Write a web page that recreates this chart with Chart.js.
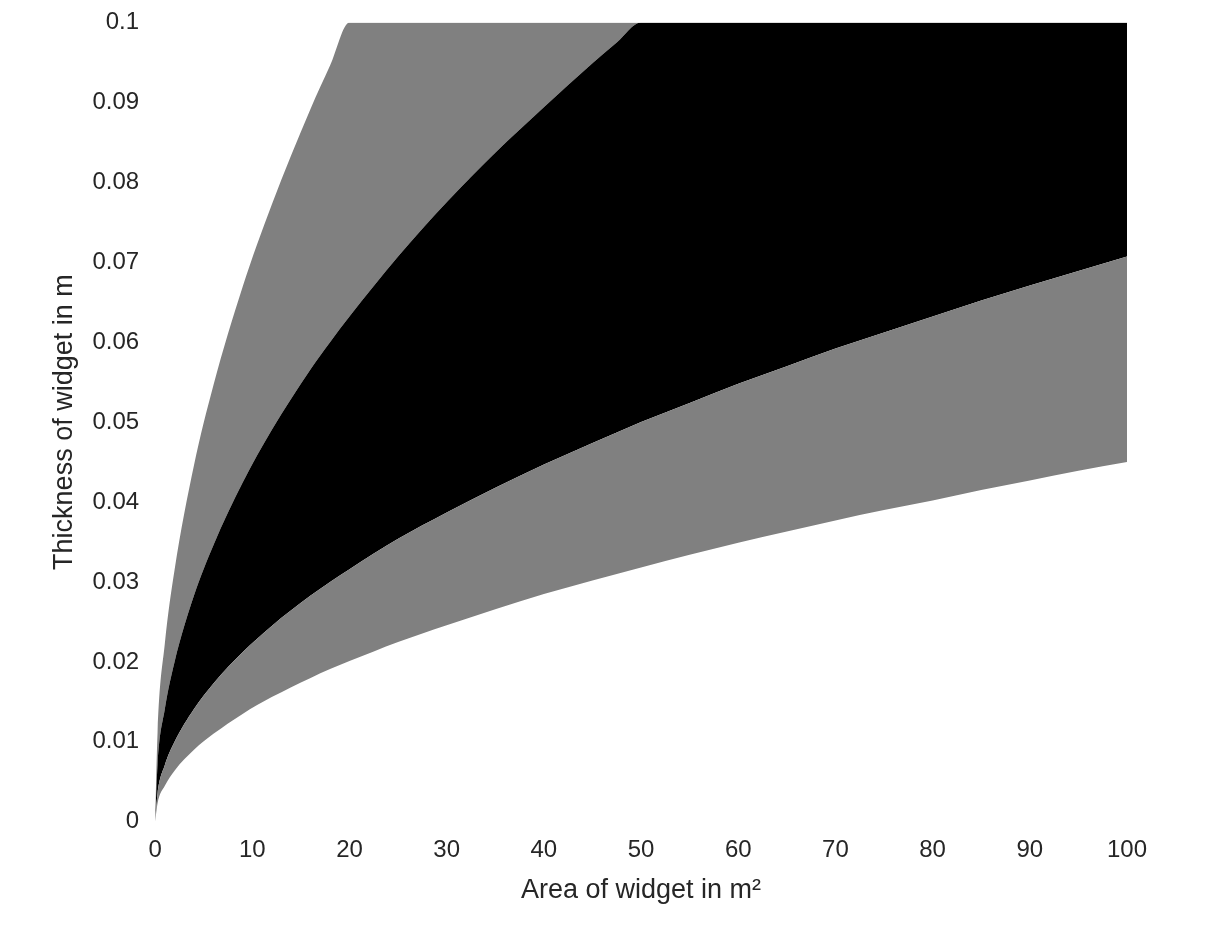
<!DOCTYPE html>
<html><head><meta charset="utf-8">
<script src="https://cdn.jsdelivr.net/npm/chart.js@4"></script>
<style>html,body{margin:0;background:#fff}</style></head>
<body><canvas id="c" width="1212" height="934"></canvas>
<script>
const areas = [0,0.25,1,2,4,6,9,12,16,18,20,25,30,35,40,45,47.5,50,55,60,65,70,75,80,85,90,95,100];
const grayLower = [0,0.0023,0.0045,0.0064,0.009,0.011,0.0135,0.0156,0.018,0.0191,0.0201,0.0225,0.0246,0.0266,0.0285,0.0302,0.031,0.0318,0.0334,0.0349,0.0363,0.0377,0.039,0.0402,0.0415,0.0427,0.0439,0.045];
const blackLower = [0,0.0035,0.0071,0.01,0.0141,0.0173,0.0212,0.0245,0.0283,0.03,0.0316,0.0354,0.0387,0.0418,0.0447,0.0474,0.0487,0.05,0.0524,0.0548,0.057,0.0592,0.0612,0.0632,0.0652,0.0671,0.0689,0.0707];
const blackUpper = [0,0.0071,0.0141,0.02,0.0283,0.0346,0.0424,0.049,0.0566,0.06,0.0632,0.0707,0.0775,0.0837,0.0894,0.0949,0.0975,0.1,0.1,0.1,0.1,0.1,0.1,0.1,0.1,0.1,0.1,0.1];
const grayUpper = [0,0.0111,0.0223,0.0315,0.0446,0.0546,0.0669,0.0772,0.0892,0.0946,0.1,0.1,0.1,0.1,0.1,0.1,0.1,0.1,0.1,0.1,0.1,0.1,0.1,0.1,0.1,0.1,0.1,0.1];
const pts = a => areas.map((x,i)=>({x, y:a[i]}));
const base = {pointRadius:0, borderWidth:0, cubicInterpolationMode:'monotone'};
new Chart(document.getElementById('c'), {
  type:'line',
  data:{datasets:[
    {...base, data:pts(grayLower), fill:false, borderColor:'#808080'},
    {...base, data:pts(blackLower), fill:'-1', backgroundColor:'#808080', borderColor:'#808080'},
    {...base, data:pts(blackUpper), fill:'-1', backgroundColor:'#000000', borderColor:'#000'},
    {...base, data:pts(grayUpper), fill:'-1', backgroundColor:'#808080', borderColor:'#808080'}
  ]},
  options:{
    responsive:false, animation:false,
    layout:{padding:{top:20,right:85,left:44,bottom:23}},
    plugins:{legend:{display:false},tooltip:{enabled:false}},
    scales:{
      x:{type:'linear',min:0,max:100,grid:{display:false},border:{display:false},
        ticks:{stepSize:10,color:'#262626',font:{family:'Liberation Sans, Arial',size:24},padding:6},
        title:{display:true,text:'Area of widget in m²',color:'#262626',font:{family:'Liberation Sans, Arial',size:27}}},
      y:{min:0,max:0.1,grid:{display:false},border:{display:false},
        ticks:{stepSize:0.01,color:'#262626',font:{family:'Liberation Sans, Arial',size:24},padding:8,
          callback:v=>String(parseFloat(v.toFixed(2)))},
        title:{display:true,text:'Thickness of widget in m',color:'#262626',font:{family:'Liberation Sans, Arial',size:27}}}
    }
  }
});
</script></body></html>
